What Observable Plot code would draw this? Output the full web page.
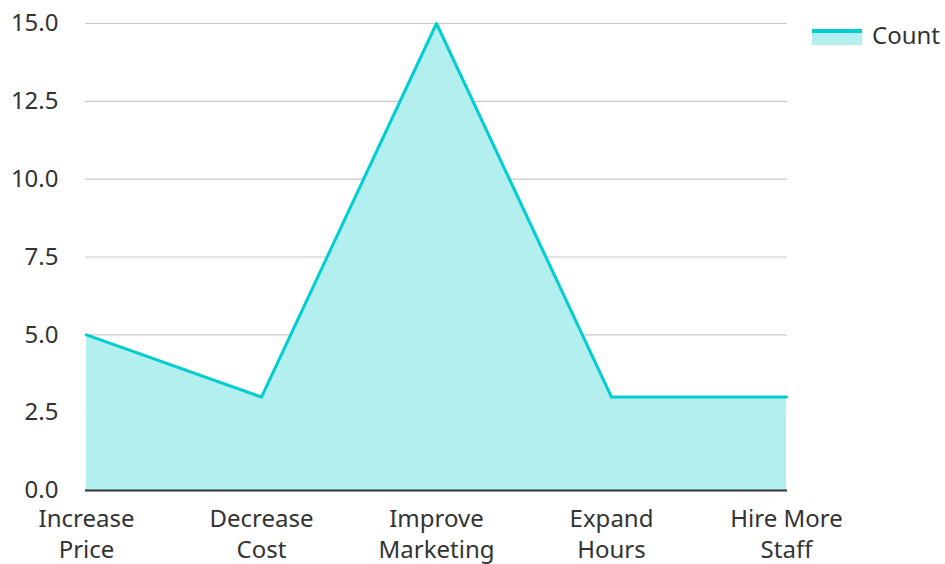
<!DOCTYPE html>
<html>
<head>
<meta charset="utf-8">
<script src="https://cdn.jsdelivr.net/npm/d3@7"></script>
<script src="https://cdn.jsdelivr.net/npm/@observablehq/plot@0.6"></script>
<style>
  html, body { margin: 0; padding: 0; background: #fff; }
  #wrap { position: relative; width: 945px; height: 564px; overflow: hidden; font-family: "Noto Sans", sans-serif; }
  #legend { position: absolute; left: 812px; top: 18px; display: flex; align-items: center; font-size: 24px; color: #333; }
  #legend .sw { width: 50px; height: 16px; margin-right: 10px; position: relative; top: 2px; box-sizing: border-box; }
</style>
</head>
<body>
<div id="wrap"></div>
<script>
const categories = ["Increase Price", "Decrease Cost", "Improve Marketing", "Expand Hours", "Hire More Staff"];
const tickLabels = ["Increase\nPrice", "Decrease\nCost", "Improve\nMarketing", "Expand\nHours", "Hire More\nStaff"];
const counts = [5, 3, 15, 3, 3];
const seriesName = "Count";
const yTicks = [0, 2.5, 5, 7.5, 10, 12.5, 15];

const lineColor = "#00ced1";
const fillColor = "#b2efee";

const data = categories.map((c, i) => ({category: c, value: counts[i]}));
const labelOf = new Map(categories.map((c, i) => [c, tickLabels[i]]));

const chart = Plot.plot({
  width: 945,
  height: 564,
  marginLeft: 85,
  marginRight: 158,
  marginTop: 23,
  marginBottom: 74,
  style: {fontFamily: "Noto Sans, sans-serif", fontSize: "24px", color: "#333", background: "transparent"},
  x: {type: "point", domain: categories, padding: 0},
  y: {domain: [0, 15]},
  marks: [
    Plot.gridY(yTicks, {stroke: "#c8c8c8", strokeOpacity: 1, strokeWidth: 1.2}),
    Plot.areaY(data, {x: "category", y: "value", fill: fillColor, curve: "linear"}),
    Plot.lineY(data, {x: "category", y: "value", stroke: lineColor, strokeWidth: 3, curve: "linear"}),
    Plot.ruleY([0], {stroke: "#333", strokeWidth: 2}),
    Plot.axisY(yTicks, {tickSize: 0, tickPadding: 27, tickFormat: d => d.toFixed(1), fontSize: 24, fill: "#333", label: null}),
    Plot.axisX({tickSize: 0, tickPadding: 14, tickFormat: d => labelOf.get(d), lineHeight: 1.3, fontSize: 24, fill: "#333", label: null})
  ]
});

const wrap = document.getElementById("wrap");
wrap.appendChild(chart);

const legend = document.createElement("div");
legend.id = "legend";
legend.innerHTML = `<div class="sw" style="background:${fillColor};border-top:4px solid ${lineColor}"></div><span>${seriesName}</span>`;
wrap.appendChild(legend);
</script>
</body>
</html>
